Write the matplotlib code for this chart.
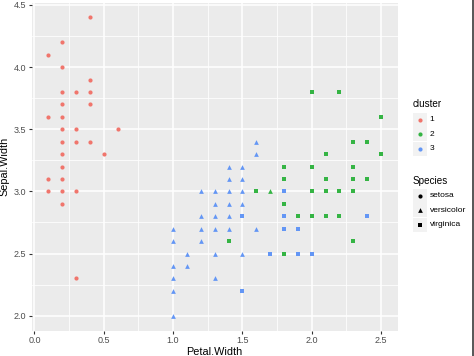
import numpy as np
import matplotlib
matplotlib.use('Agg')
import matplotlib.pyplot as plt
from matplotlib.lines import Line2D
from matplotlib.patches import Rectangle

plt.rcParams['font.family'] = ['Liberation Sans', 'DejaVu Sans']

# data (petal width, sepal width)
c1_setosa_x = [0.4, 0.2, 0.1, 0.2, 0.4, 0.2, 0.3, 0.4, 0.2, 0.4, 0.1, 0.2, 0.2, 0.3,
               0.6, 0.2, 0.3, 0.4, 0.2, 0.5, 0.2, 0.1, 0.2, 0.1, 0.2, 0.3, 0.2, 0.3]
c1_setosa_y = [4.4, 4.2, 4.1, 4.0, 3.9, 3.8, 3.8, 3.8, 3.7, 3.7, 3.6, 3.6, 3.5, 3.5,
               3.5, 3.4, 3.4, 3.4, 3.3, 3.3, 3.2, 3.1, 3.1, 3.0, 3.0, 3.0, 2.9, 2.3]

c2_versicolor_x = [1.7]
c2_versicolor_y = [3.0]

c2_virginica_x = [2.0, 2.2, 2.5, 2.3, 2.4, 2.1, 2.5, 1.8, 2.0, 2.3, 1.8, 2.1, 2.3, 2.4,
                  1.6, 2.0, 2.1, 2.2, 2.3, 1.8, 1.9, 2.0, 2.1, 2.2, 1.4, 2.3, 1.8]
c2_virginica_y = [3.8, 3.8, 3.6, 3.4, 3.4, 3.3, 3.3, 3.2, 3.2, 3.2, 3.1, 3.1, 3.1, 3.1,
                  3.0, 3.0, 3.0, 3.0, 3.0, 2.9, 2.8, 2.8, 2.8, 2.8, 2.6, 2.6, 2.5]

c3_versicolor_x = [1.6, 1.6, 1.4, 1.5, 1.4, 1.5, 1.2, 1.3, 1.4, 1.5, 1.3, 1.4, 1.5, 1.2,
                   1.3, 1.4, 1.0, 1.2, 1.3, 1.4, 1.6, 1.0, 1.2, 1.1, 1.3, 1.5, 1.0, 1.1,
                   1.0, 1.3, 1.0, 1.0]
c3_versicolor_y = [3.4, 3.3, 3.2, 3.2, 3.1, 3.1, 3.0, 3.0, 3.0, 3.0, 2.9, 2.9, 2.9, 2.8,
                   2.8, 2.8, 2.7, 2.7, 2.7, 2.7, 2.7, 2.6, 2.6, 2.5, 2.5, 2.5, 2.4, 2.4,
                   2.3, 2.3, 2.2, 2.0]

c3_virginica_x = [1.8, 1.5, 1.8, 2.4, 1.8, 1.9, 1.7, 1.9, 2.0, 1.5]
c3_virginica_y = [3.0, 2.8, 2.8, 2.8, 2.7, 2.7, 2.5, 2.5, 2.5, 2.2]

clusters = ['1', '2', '3']
species = ['setosa', 'versicolor', 'virginica']
cols = {'1': '#F0756C', '2': '#35B444', '3': '#6396F5'}
marks = {'setosa': ('o', 3.0), 'versicolor': ('^', 3.4), 'virginica': ('s', 2.7)}

groups = [('1', 'setosa', c1_setosa_x, c1_setosa_y),
          ('2', 'versicolor', c2_versicolor_x, c2_versicolor_y),
          ('2', 'virginica', c2_virginica_x, c2_virginica_y),
          ('3', 'versicolor', c3_versicolor_x, c3_versicolor_y),
          ('3', 'virginica', c3_virginica_x, c3_virginica_y)]

W, H = 474, 356
fig = plt.figure(figsize=(W / 100, H / 100), dpi=100)
ax = fig.add_axes([31.7 / W, 1 - 330.6 / H, (397.6 - 31.7) / W, (330.6 - 2.5) / H])
ax.set_facecolor('#EBEBEB')

for c, sp, xs, ys in groups:
    m, ms = marks[sp]
    ax.scatter(xs, ys, marker=m, s=ms ** 2, color=cols[c], linewidths=0, zorder=3)

ax.set_xlim(-0.02, 2.62)
ax.set_ylim(1.88, 4.52)
ax.set_xticks([0.0, 0.5, 1.0, 1.5, 2.0, 2.5])
ax.set_yticks([2.0, 2.5, 3.0, 3.5, 4.0, 4.5])
ax.set_xticks(np.arange(0.25, 2.6, 0.5), minor=True)
ax.set_yticks(np.arange(2.25, 4.5, 0.5), minor=True)
ax.grid(True, which='major', color='white', linewidth=1.1)
ax.grid(True, which='minor', color='white', linewidth=0.55)
ax.set_axisbelow(True)
for s in ax.spines.values():
    s.set_visible(False)
ax.tick_params(which='major', length=2.5, width=0.8, color='#333333',
               labelsize=6.5, labelcolor='#4D4D4D', pad=1.5)
ax.tick_params(which='minor', length=0)
ax.set_xlabel('Petal.Width', fontsize=7.8, labelpad=1)
ax.set_ylabel('Sepal.Width', fontsize=7.8, labelpad=3)

# legends drawn by hand in pixel coordinates
def fx(px):
    return px / W

def fy(py):
    return 1 - py / H

fig.text(fx(412.5), fy(104), 'cluster', fontsize=7.1, va='center', ha='left')
for i, c in enumerate(clusters):
    yc = 119.5 + i * 14.7
    fig.add_artist(Rectangle((fx(413), fy(yc + 7)), 14 / W, 14 / H,
                             transform=fig.transFigure, facecolor='#F2F2F2', edgecolor='none'))
    fig.add_artist(Line2D([fx(420)], [fy(yc)], marker='o', markersize=3.0,
                          color=cols[c], markeredgewidth=0, transform=fig.transFigure))
    fig.text(fx(429.5), fy(yc), c, fontsize=6.0, va='center', ha='left', color='black')

fig.text(fx(412.5), fy(181), 'Species', fontsize=7.1, va='center', ha='left')
for i, sp in enumerate(species):
    yc = 195.5 + i * 14.7
    m, ms = marks[sp]
    fig.add_artist(Rectangle((fx(413), fy(yc + 7)), 14 / W, 14 / H,
                             transform=fig.transFigure, facecolor='#F2F2F2', edgecolor='none'))
    fig.add_artist(Line2D([fx(420)], [fy(yc)], marker=m, markersize=ms,
                          color='black', markeredgewidth=0, transform=fig.transFigure))
    fig.text(fx(429.5), fy(yc), sp, fontsize=6.0, va='center', ha='left', color='black')

# dark strip at the right edge of the screenshot
fig.add_artist(Rectangle((fx(471.5), 0), 2.5 / W, 1, transform=fig.transFigure,
                         facecolor='#5A5A5A', edgecolor='none'))

fig.savefig('out.png', dpi=100)
